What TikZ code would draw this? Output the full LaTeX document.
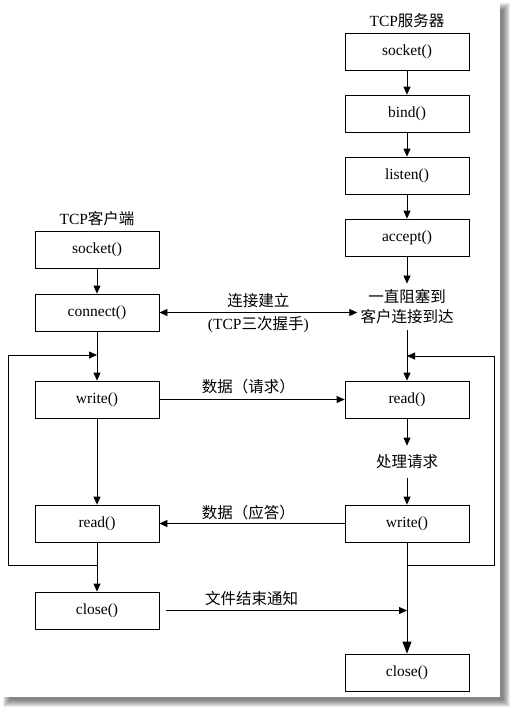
\documentclass[tikz,border=0pt]{standalone}
\usepackage{fontspec}
\setmainfont{Liberation Serif}
\newfontfamily\cjk{Noto Sans CJK SC}
\usetikzlibrary{arrows.meta}

\begin{document}
\begin{tikzpicture}[x=1pt,y=-1pt,
		every node/.style={font=\fontsize{15.5}{20}\selectfont},
		box/.style={draw,line width=0.8pt,minimum width=124pt,minimum height=37pt,inner sep=0pt},
		arr/.style={line width=0.8pt,-{Triangle[length=8pt,width=7pt]}},
		bigarr/.style={line width=0.8pt,-{Triangle[length=12pt,width=9pt]}}]
				\useasboundingbox (0,0) rectangle (516,713);
				\foreach \i in {0,...,7}
				\fill[black,opacity=0.08] (3+\i,3+\i) rectangle (510-\i,707-\i);
				\fill[white] (0,0) rectangle (500,697);

				\node (stitle) at (407,21) {TCP{\cjk 服务器}};
				\node[box] (ssocket) at (407,51.5) {socket()};
				\node[box] (sbind) at (407,113.5) {bind()};
				\node[box] (slisten) at (407,175.5) {listen()};
				\node[box] (saccept) at (407,237.5) {accept()};
				\node[align=center,inner xsep=3pt,inner ysep=6pt] (swait) at (407,307) {{\cjk 一直阻塞到}\\{\cjk 客户连接到达}};
				\node[box] (sread) at (407,399.5) {read()};
				\node[inner ysep=9pt] (sproc) at (407,462) {\cjk 处理请求};
				\node[box] (swrite) at (407,523.5) {write()};
				\node[box] (sclose) at (407,672.5) {close()};

				\node (ctitle) at (97,219) {TCP{\cjk 客户端}};
				\node[box] (csocket) at (97,250) {socket()};
				\node[box] (cconnect) at (97,312.5) {connect()};
				\node[box] (cwrite) at (97,399.5) {write()};
				\node[box] (cread) at (97,523.5) {read()};
				\node[box] (cclose) at (97,610.5) {close()};

				\coordinate (lbot) at (8,565);
				\coordinate (ltop) at (8,355);
				\coordinate (rbot) at (494,565);
				\coordinate (rtop) at (494,356);
				\coordinate (cstart) at (166,610.5);
				\coordinate (fin) at (swrite.south |- cclose);

				\foreach \a/\b in {ssocket/sbind,sbind/slisten,slisten/saccept,saccept/swait,swait/sread,sread/sproc,sproc/swrite,csocket/cconnect,cconnect/cwrite,cwrite/cread,cread/cclose}
				\draw[arr] (\a) -- (\b);
				\draw[bigarr] (swrite) -- (sclose);

				\draw[arr,{Triangle[length=8pt,width=7pt]}-{Triangle[length=8pt,width=7pt]}] (cconnect) -- (cconnect -| swait.west)
					node[midway,above=1pt] {\cjk 连接建立}
					node[midway,below] {(TCP{\cjk 三次握手})};
				\draw[arr] (cwrite) -- (sread) node[pos=0.48,above=2pt] {\cjk 数据（请求）};
				\draw[arr] (swrite) -- (cread) node[pos=0.52,above] {\cjk 数据（应答）};
				\draw[arr] (cstart) -- (fin) node[pos=0.355,above=1pt] {\cjk 文件结束通知};

				\draw[arr] (cread.south |- lbot) -- (lbot) -- (ltop) -- (cwrite.north |- ltop);
				\draw[arr] (swrite.south |- rbot) -- (rbot) -- (rtop) -- (sread.north |- rtop);

			\end{tikzpicture}
\end{document}
